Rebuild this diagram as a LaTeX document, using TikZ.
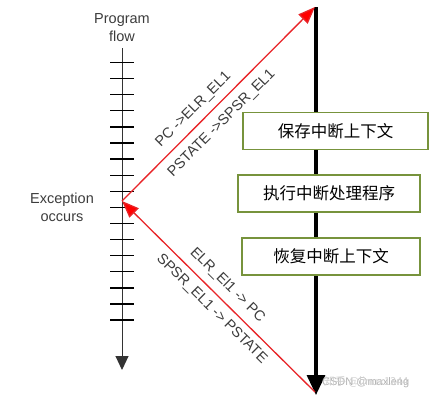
\documentclass[tikz,border=0pt]{standalone}
\usepackage{fontspec}
\setmainfont{Liberation Sans}
\newfontfamily\cjk{Noto Sans CJK SC}
\usetikzlibrary{arrows.meta}
\definecolor{boxgreen}{RGB}{119,147,60}
\definecolor{flowred}{RGB}{232,36,40}
\definecolor{txtgray}{RGB}{60,60,60}
\tikzset{
  stepbox/.style={draw=boxgreen, line width=1.6pt, fill=white, minimum height=37pt, inner sep=0pt, font=\cjk\fontsize{16.5}{18}\selectfont},
  tick/.style={line width=1.3pt, black},
  redarrow/.style={draw=flowred, line width=1.3pt, -{Triangle[length=17pt,width=13pt,fill=red]}},
  lbl/.style={text=txtgray, font=\fontsize{14.5}{17}\selectfont, inner sep=0pt},
  side/.style={text=txtgray, font=\fontsize{14.5}{18}\selectfont, align=center, inner sep=0pt},
}
\begin{document}
\begin{tikzpicture}[x=1pt,y=-1pt]
\useasboundingbox (0,0) rectangle (435,400);
% left program flow axis
\coordinate (Ltop) at (122,48);
\coordinate (Lbot) at (122,370);
\draw[line width=1pt, black!80, -{Triangle[length=14pt,width=13pt]}] (Ltop) -- (Lbot);
\foreach \i in {0,...,16} {
  \draw[tick] (110,62.5+16.1*\i) -- (134,62.5+16.1*\i);
}
\node[side] (pf) at (122,28) {Program\\flow};
\node[side] (exc) at (62,207) {Exception\\occurs};
% right handler axis
\coordinate (Rtop) at (316,7);
\coordinate (Rbot) at (316,395);
\draw[line width=3.2pt, black, -{Triangle[length=20pt,width=18pt]}] (Rtop) -- (Rbot);
% boxes
\node[stepbox, minimum width=185pt] (save) at (335.5,131) {保存中断上下文};
\node[stepbox, minimum width=182pt] (run) at (329,193.5) {执行中断处理程序};
\node[stepbox, minimum width=178pt] (rest) at (331,256.5) {恢复中断上下文};
% red arrows
\coordinate (A) at (122,201);
\coordinate (T) at (315,7);
\coordinate (B) at (315,392);
\draw[redarrow] (A) -- (T);
\draw[redarrow] (B) -- (A);
% labels
\node[lbl, rotate=45] (l1) at (193.5,109.5) {PC ->ELR\_EL1};
\node[lbl, rotate=45] (l2) at (221.7,123.3) {PSTATE ->SPSR\_EL1};
\node[lbl, rotate=-44.7] (l3) at (227.5,285) {ELR\_El1 -> PC};
\node[lbl, rotate=-44.7] (l4) at (211.7,309) {SPSR\_EL1 -> PSTATE};
% watermark
\node[text=black!30, font=\fontsize{11}{12}\selectfont, inner sep=0pt, anchor=west] (wm1) at (322,383) {CSDN @maxleng};
\node[text=black!18, font=\cjk\fontsize{11}{12}\selectfont, inner sep=0pt, anchor=west] (wm2) at (324,382) {知乎 @linux1344};
\end{tikzpicture}
\end{document}
